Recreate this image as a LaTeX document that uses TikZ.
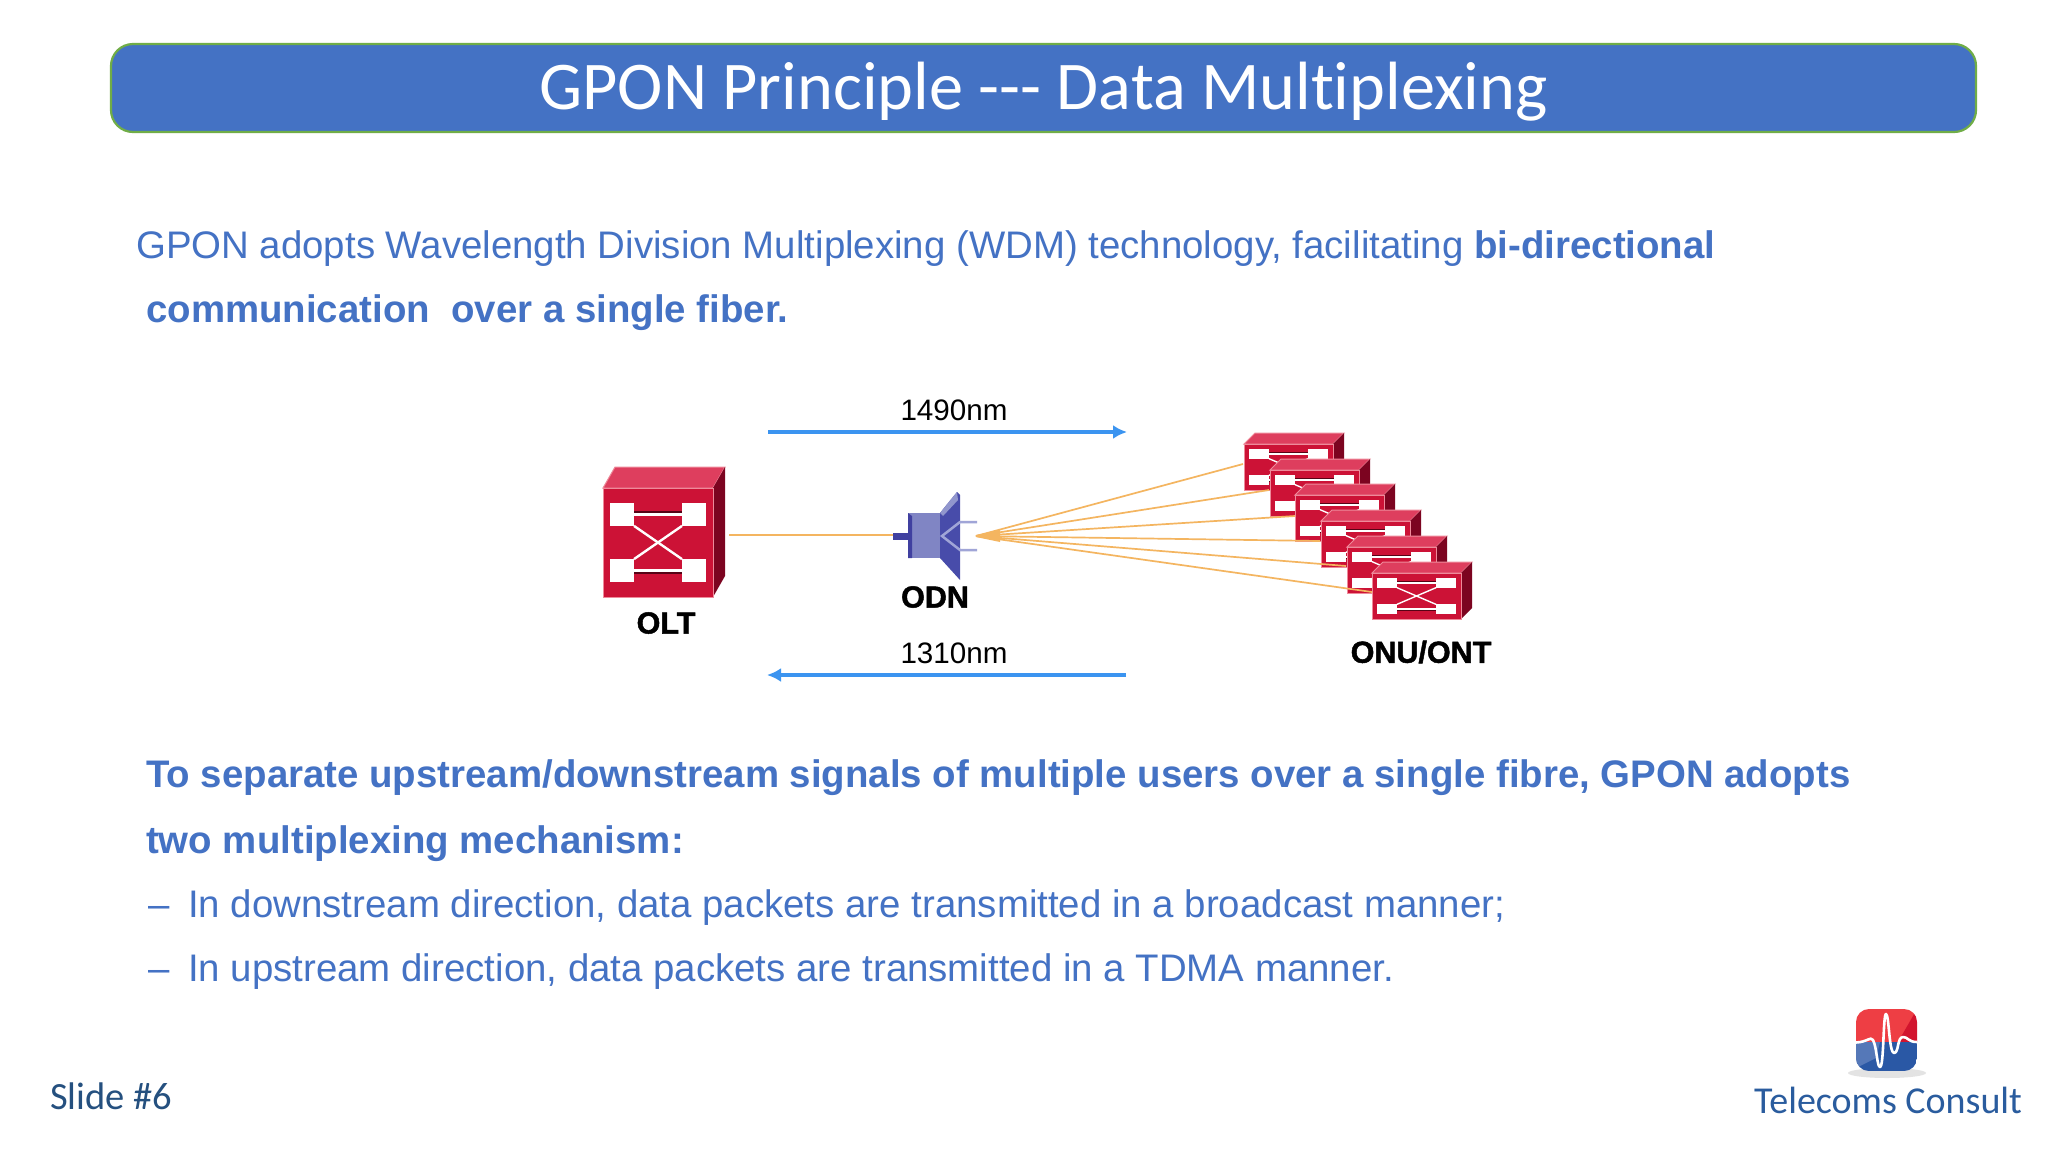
\documentclass[tikz,border=0pt]{standalone}
\usepackage{fontspec}
\setmainfont{Liberation Sans}
\newfontfamily\carlito[Ligatures=NoCommon]{Carlito}
\newfontfamily\labelfont[BoldFeatures={FakeBold=1.6}]{Liberation Sans}
\newcommand{\fsz}[1]{\fontsize{#1}{#1}\selectfont}
\definecolor{titleblue}{HTML}{4472C4}
\definecolor{titleedge}{HTML}{70AD47}
\definecolor{arrowblue}{HTML}{3B94F0}
\definecolor{fiber}{HTML}{F4B560}
\definecolor{devfront}{HTML}{CC1236}
\definecolor{devtop}{HTML}{DE3E5E}
\definecolor{devside}{HTML}{7C0420}
\definecolor{devedge}{HTML}{EE8A9A}
\definecolor{slidetext}{HTML}{25507F}
\definecolor{brandblue}{HTML}{2A5C9E}
\usetikzlibrary{arrows.meta}
\newcommand{\devwidth}{1.4}
\tikzset{
  bodytext/.style={anchor=base west,inner sep=0pt,text=titleblue,font=\fsz{38.4}},
  fiberline/.style={draw=fiber,line width=1.7pt},
  wave/.style={draw=arrowblue,line width=4pt,-{Latex[length=14pt,width=14pt]}},
  devlabel/.style={anchor=center,inner sep=0pt,font=\labelfont\fsz{30.5}\bfseries,text=black},
  numlabel/.style={anchor=center,inner sep=0pt,font=\fsz{29.6},text=black},
  whitepad/.style={fill=white},
  devline/.style={draw=white,line width=\devwidth pt},
  devshade/.style={draw=devside!70!black,line width=\devwidth pt},
}
% front-top-left x, y, front width, front height, depth x, depth y, pad w, inset x, inset y
\newcommand{\device}[9]{%
  \begin{scope}[shift={(#1,#2)}]
    \fill[devtop,draw=devedge,line width=1pt] (0,0) -- (#3,0) -- ({#3+#5},{-#6}) -- (#5,{-#6}) -- cycle;
    \fill[devside] (#3,0) -- ({#3+#5},{-#6}) -- ({#3+#5},{#4-#6}) -- (#3,#4) -- cycle;
    \fill[devfront,draw=devedge,line width=1pt] (0,0) rectangle (#3,#4);
    \fill[whitepad] (#8,#9) rectangle ++(#7,{#4*0.21});
    \fill[whitepad] ({#3-#8-#7},#9) rectangle ++(#7,{#4*0.21});
    \fill[whitepad] (#8,{#4-#9-#4*0.21}) rectangle ++(#7,{#4*0.21});
    \fill[whitepad] ({#3-#8-#7},{#4-#9-#4*0.21}) rectangle ++(#7,{#4*0.21});
    \draw[devshade] ({#8+#7},{#9+#4*0.105-\devwidth*0.8}) -- ({#3-#8-#7},{#9+#4*0.105-\devwidth*0.8});
    \draw[devshade] ({#8+#7},{#4-#9-#4*0.105+\devwidth*0.8}) -- ({#3-#8-#7},{#4-#9-#4*0.105+\devwidth*0.8});
    \draw[devline] ({#8+#7},{#9+#4*0.105}) -- ({#3-#8-#7},{#9+#4*0.105});
    \draw[devline] ({#8+#7},{#4-#9-#4*0.105}) -- ({#3-#8-#7},{#4-#9-#4*0.105});
    \draw[devline] ({#8+#7},{#9+#4*0.21}) -- ({#3-#8-#7},{#4-#9-#4*0.21});
    \draw[devline] ({#3-#8-#7},{#9+#4*0.21}) -- ({#8+#7},{#4-#9-#4*0.21});
  \end{scope}}
\begin{document}
\begin{tikzpicture}[x=1pt,y=-1pt]
\useasboundingbox (0,0) rectangle (2048,1152);
\fill[white] (0,0) rectangle (2048,1152);

% title
\node[draw=titleedge,fill=titleblue,line width=2.2pt,rounded corners=22pt,minimum width=1865pt,minimum height=88pt,inner sep=0pt,anchor=center] (titlebar) at (1043.5,88) {};
\node[anchor=center,inner sep=0pt,text=white,font=\carlito\fsz{68.3}] (titletext) at (1043.5,91.5) {GPON Principle --{}- Data Multiplexing};

% text top
\node[bodytext] (intro1) at (136,258) {GPON adopts Wavelength Division Multiplexing (WDM) technology, facilitating \textbf{bi-directional}};
\node[bodytext] (intro2) at (146,322) {\textbf{communication\ \ over a single fiber.}};

% wavelengths
\coordinate (downa) at (768,432);
\coordinate (downb) at (1127,432);
\coordinate (upa) at (1126,675);
\coordinate (upb) at (767,675);
\draw[wave] (downa) -- (downb);
\draw[wave] (upa) -- (upb);
\node[numlabel] (l1490) at (954,410) {1490nm};
\node[numlabel] (l1310) at (954,653) {1310nm};

% OLT
\renewcommand{\devwidth}{2.4}
\device{603}{488}{110}{109}{12}{21}{24}{7}{15}
\renewcommand{\devwidth}{1.4}
\coordinate (oltport) at (729,535);
\node[devlabel] (olt) at (666,623) {OLT};

% ODN
\coordinate (odnin) at (893,535);
\coordinate (odnout) at (976,536);
\draw[fiberline] (oltport) -- (odnin);
\fill[color={rgb,255:red,64;green,64;blue,160}] (893,533) rectangle (909,540);
\fill[color={rgb,255:red,128;green,133;blue,196}] (908,513) -- (940,513) -- (940,558) -- (908,558) -- cycle;
\fill[color={rgb,255:red,64;green,64;blue,160}] (908,513) -- (912,516) -- (912,558) -- (908,558) -- cycle;
\fill[color={rgb,255:red,72;green,76;blue,170}] (940,513) -- (957,492) -- (960,495) -- (960,580) -- (940,558) -- cycle;
\fill[color={rgb,255:red,145;green,150;blue,205}] (940,513) -- (957,492) -- (958,500) -- (943,516) -- cycle;
\draw[color={rgb,255:red,160;green,165;blue,215},line width=2.5pt] (977,522) -- (960,522) -- (942,536) -- (960,550) -- (977,550);
\node[devlabel] (odn) at (935,597) {ODN};

% fibres and ONU stack (each fibre lies over the box before it)
\coordinate (onu1) at (1243,464);
\coordinate (onu2) at (1269,490);
\coordinate (onu3) at (1295,516);
\coordinate (onu4) at (1320,541);
\coordinate (onu5) at (1346,566);
\coordinate (onu6) at (1372,592);
\fill[fiber] (976,535) -- (1000,530) -- (1000,542) -- (976,537) -- cycle;
\draw[fiberline] (odnout) -- (onu1);
\device{1244}{444}{89}{46}{11}{11}{20}{5}{5}
\draw[fiberline] (odnout) -- (onu2);
\device{1270}{470}{89}{46}{11}{11}{20}{5}{5}
\draw[fiberline] (odnout) -- (onu3);
\device{1295}{495}{89}{46}{11}{11}{20}{5}{5}
\draw[fiberline] (odnout) -- (onu4);
\device{1321}{521}{89}{46}{11}{11}{20}{5}{5}
\draw[fiberline] (odnout) -- (onu5);
\device{1347}{547}{89}{46}{11}{11}{20}{5}{5}
\draw[fiberline] (odnout) -- (onu6);
\device{1372}{573}{89}{46}{11}{11}{20}{5}{5}
\node[devlabel] (onu) at (1421,652) {ONU/ONT};

% text bottom
\node[bodytext] (para1) at (146,787) {\textbf{To separate upstream/downstream signals of multiple users over a single fibre, GPON adopts}};
\node[bodytext] (para2) at (146,853) {\textbf{two multiplexing mechanism:}};
\node[bodytext] (dash1) at (148,917) {–};
\node[bodytext] (item1) at (188,917) {In downstream direction, data packets are transmitted in a broadcast manner;};
\node[bodytext] (dash2) at (148,981) {–};
\node[bodytext] (item2) at (188,981) {In upstream direction, data packets are transmitted in a TDMA manner.};

% footer
\node[anchor=base west,inner sep=0pt,text=slidetext,font=\carlito\fsz{38.5}] (slide) at (50,1109) {Slide \#6};

% logo
\fill[black!11] (1887,1073) ellipse [x radius=39,y radius=5];
\begin{scope}
  \clip[rounded corners=13pt] (1856,1009) rectangle (1917,1071);
  \fill[color={rgb,255:red,238;green,62;blue,68}] (1856,1009) rectangle (1917,1042);
  \fill[color={rgb,255:red,210;green,20;blue,46}] (1917,1009) -- (1917,1042) -- (1898,1042) -- cycle;
  \fill[color={rgb,255:red,42;green,88;blue,165}] (1856,1042) rectangle (1917,1071);
  \fill[color={rgb,255:red,85;green,120;blue,184}] (1856,1042) -- (1880,1042) -- (1876,1058) -- (1856,1068) -- cycle;
  \draw[white,line width=2.6pt,line join=round] (1856,1042.5) .. controls (1868,1042) and (1870,1036) .. (1873,1040)
     .. controls (1877,1048) and (1877,1067) .. (1880,1067)
     .. controls (1884,1067) and (1883,1014) .. (1886,1014)
     .. controls (1889,1014) and (1889,1053) .. (1894,1053)
     .. controls (1899,1053) and (1897,1037) .. (1903,1037)
     .. controls (1908,1037) and (1908,1042) .. (1917,1042);
\end{scope}
\node[anchor=base west,inner sep=0pt,text=brandblue,font=\carlito\fsz{38}] (brand) at (1754,1113) {Telecoms Consult};
\end{tikzpicture}
\end{document}
